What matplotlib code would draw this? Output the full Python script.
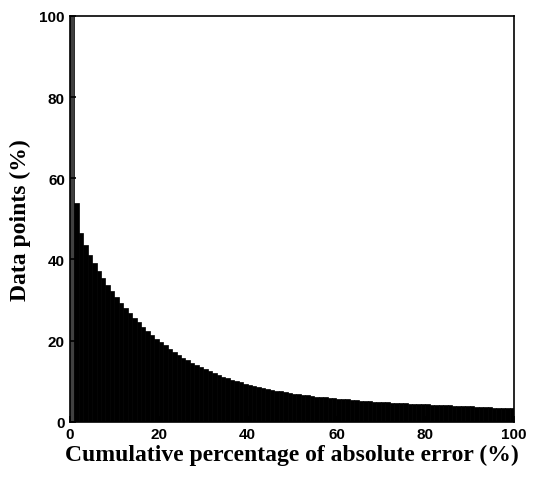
import matplotlib
matplotlib.use("Agg")
import matplotlib.pyplot as plt

bin_left = list(range(100))
data_points = [100, 54, 46.5, 43.5, 41, 39, 37.2, 35.5, 33.8, 32.2,
               30.7, 29.3, 28, 26.8, 25.6, 24.5, 23.4, 22.4, 21.4, 20.5,
               19.6, 18.8, 18, 17.2, 16.5, 15.8, 15.2, 14.6, 14, 13.4,
               12.9, 12.4, 12, 11.5, 11.1, 10.7, 10.4, 10, 9.7, 9.4,
               9.1, 8.8, 8.6, 8.3, 8.1, 7.9, 7.7, 7.5, 7.3, 7.1,
               6.9, 6.8, 6.6, 6.5, 6.3, 6.2, 6.1, 6.0, 5.9, 5.8,
               5.7, 5.6, 5.5, 5.4, 5.3, 5.2, 5.15, 5.1, 5.0, 4.95,
               4.9, 4.8, 4.75, 4.7, 4.6, 4.55, 4.5, 4.45, 4.4, 4.35,
               4.3, 4.25, 4.2, 4.15, 4.1, 4.05, 4.0, 3.95, 3.9, 3.85,
               3.8, 3.7, 3.65, 3.6, 3.55, 3.5, 3.45, 3.4, 3.35, 3.3]
xticks = [0, 20, 40, 60, 80, 100]
yticks = [0, 20, 40, 60, 80, 100]

fig = plt.figure(figsize=(5.5, 4.81), dpi=100)
ax = fig.add_axes([0.127, 0.121, 0.808, 0.844])
colors = ['#404040'] + ['black'] * (len(data_points) - 1)
ax.bar(bin_left, data_points, width=1, align='edge', color=colors,
       edgecolor='black', linewidth=0.5)
ax.set_xlim(0, 100)
ax.set_ylim(0, 100)
ax.set_xticks(xticks)
ax.set_yticks(yticks)
ax.tick_params(direction='in', length=4, width=1.2)
for lab in ax.get_xticklabels() + ax.get_yticklabels():
    lab.set_fontfamily('Liberation Sans')
    lab.set_fontweight('bold')
    lab.set_fontsize(11)
for s in ax.spines.values():
    s.set_linewidth(1.2)
ax.set_xlabel('Cumulative percentage of absolute error (%)', family='Liberation Serif',
              fontweight='bold', fontsize=17, labelpad=2)
ax.set_ylabel('Data points (%)', family='Liberation Serif',
              fontweight='bold', fontsize=17, labelpad=6)
fig.savefig('out.png', dpi=100)
